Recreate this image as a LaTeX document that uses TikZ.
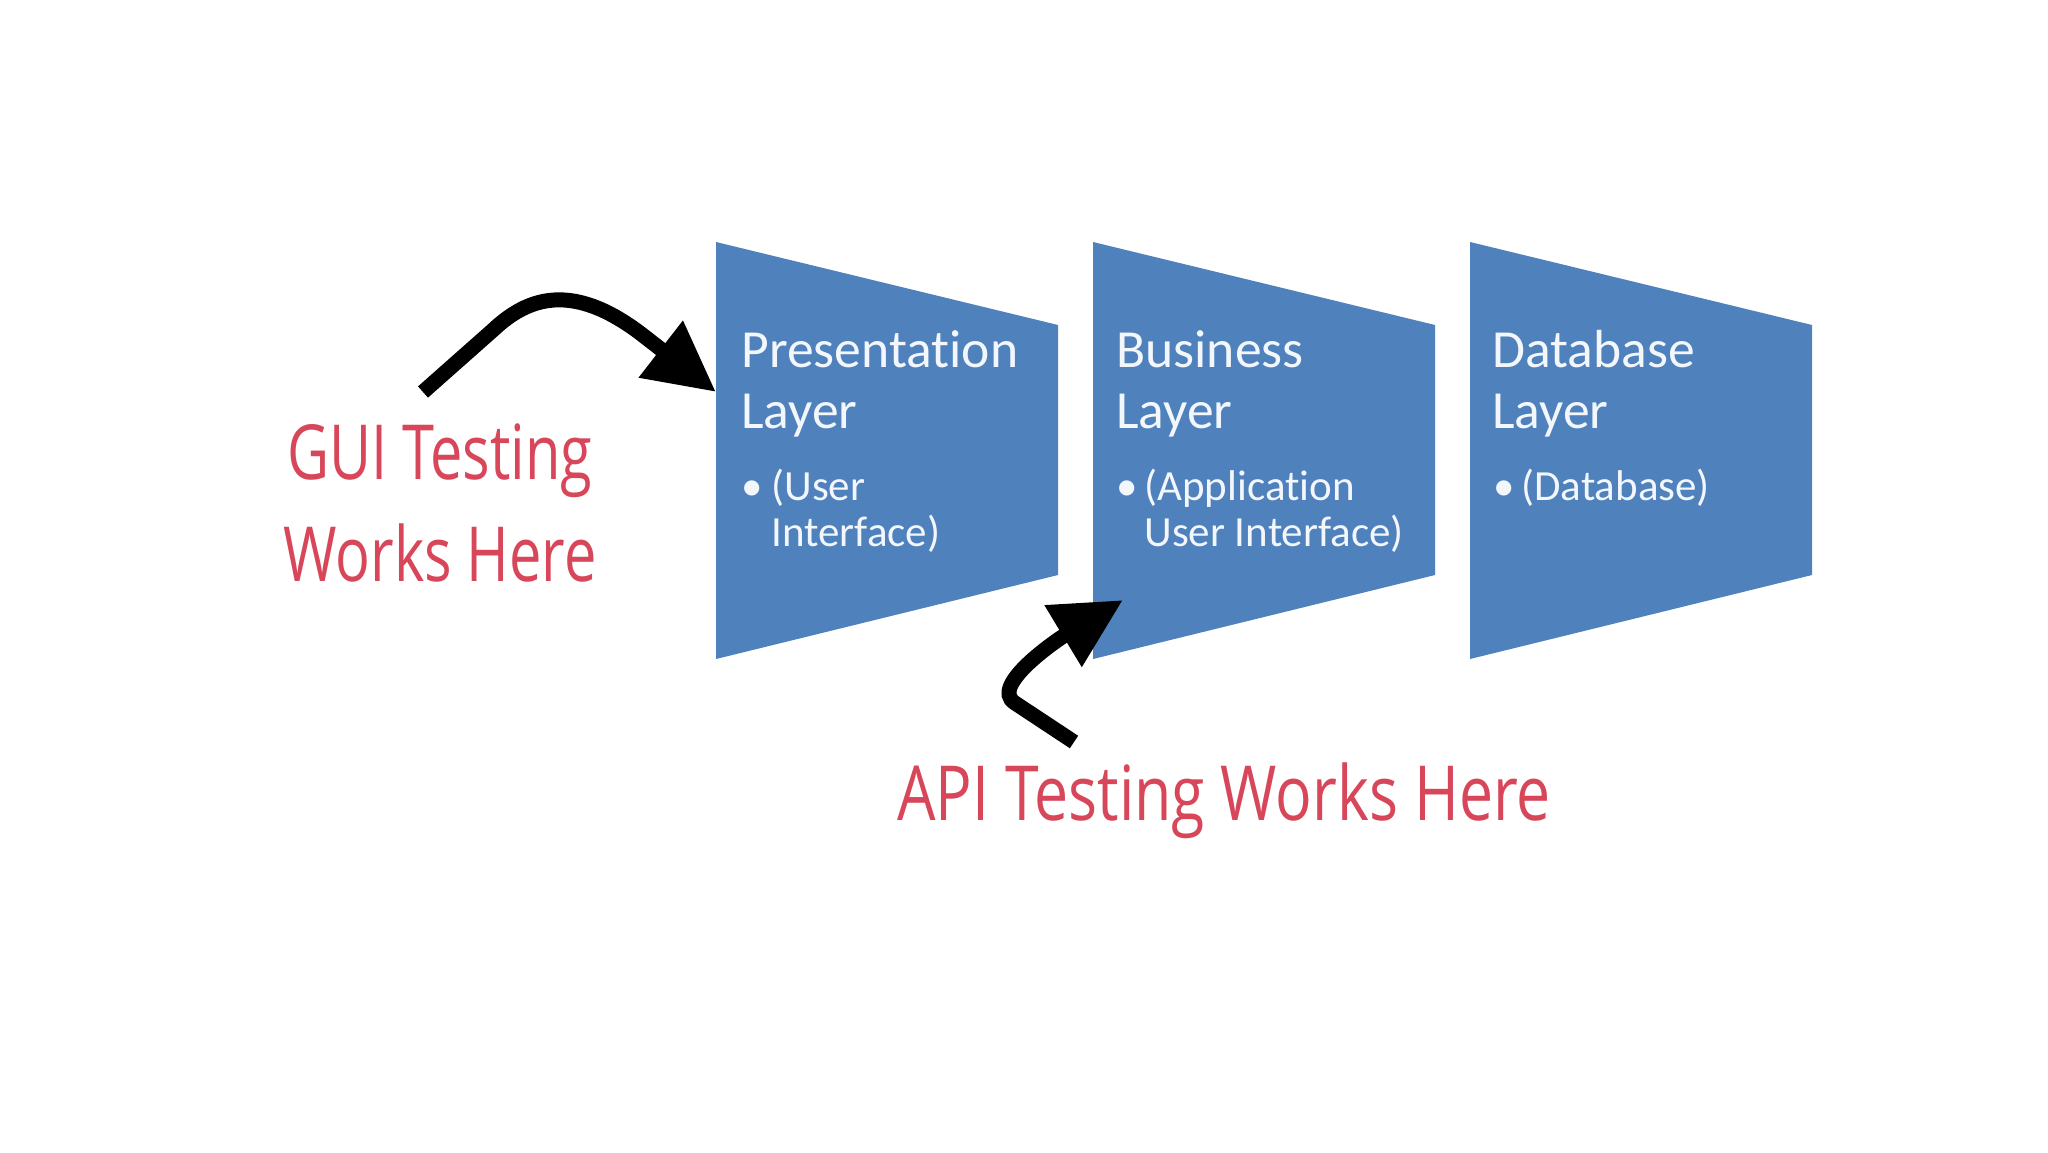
\documentclass[tikz,border=0pt]{standalone}
\usepackage{fontspec}
\setmainfont{Carlito}[Ligatures=NoCommon]
\newfontfamily\handA[FakeStretch=0.80]{Open Sans}
\newfontfamily\handG[FakeStretch=0.76]{Open Sans}
\usetikzlibrary{arrows.meta}
\definecolor{layerblue}{HTML}{4F81BD}
\definecolor{layertext}{HTML}{F3F7FC}
\definecolor{handred}{HTML}{D8465A}
\tikzset{
  layer/.style={fill=layerblue, draw=none},
  title/.style={anchor=base west, inner sep=0pt, text=layertext, font=\fontsize{26.8pt}{29pt}\selectfont},
  small/.style={anchor=base west, inner sep=0pt, text=layertext, font=\fontsize{21.5pt}{23pt}\selectfont},
  hand/.style={anchor=base, inner sep=0pt, text=handred},
  bigarrow/.style={line width=7.5pt, black, -{Triangle[length=35pt,width=34pt]}},
}
\begin{document}
\begin{tikzpicture}[x=0.5pt,y=-0.5pt]
\useasboundingbox[fill=white] (0,0) rectangle (2048,1152);

% layer shapes
\foreach \n/\x in {p/716,b/1093,d/1470}{
  \coordinate (\n-tl) at (\x,242);
  \coordinate (\n-bl) at (\x,659);
  \coordinate (\n-tr) at (\x+342,325);
  \coordinate (\n-br) at (\x+342,575);
  \fill[layer] (\n-tl) -- (\n-tr) -- (\n-br) -- (\n-bl) -- cycle;
}

% Presentation layer text
\node[title] (p-t1) at (741,367) {Presentation};
\node[title] (p-t2) at (741,428) {Layer};
\node[small] (p-bul) at (741,500) {•};
\node[small] (p-s1) at (771,500) {(User};
\node[small] (p-s2) at (771,546) {Interface)};

% Business layer text
\node[title] (b-t1) at (1116,367) {Business};
\node[title] (b-t2) at (1116,428) {Layer};
\node[small] (b-bul) at (1116,500) {•};
\node[small] (b-s1) at (1144,500) {(Application};
\node[small] (b-s2) at (1144,546) {User Interface)};

% Database layer text
\node[title] (d-t1) at (1492,367) {Database};
\node[title] (d-t2) at (1492,428) {Layer};
\node[small] (d-bul) at (1493,500) {•};
\node[small] (d-s1) at (1521,500) {(Database)};

% handwritten labels
\node[hand, font=\handG\fontsize{38pt}{40pt}\selectfont] (gui1) at (440,479) {GUI Testing};
\node[hand, font=\handG\fontsize{38pt}{40pt}\selectfont] (gui2) at (440,581) {Works Here};
\node[hand, font=\handA\fontsize{38pt}{40pt}\selectfont] (api) at (1224,820) {API Testing Works Here};

% arrows
\coordinate (gui-tail) at (423,392);
\coordinate (gui-tip) at (716,392);
\coordinate (api-tail) at (1074,742);
\coordinate (api-tip) at (1123,600);
\draw[bigarrow] (gui-tail) -- (493,330) .. controls (528,297) and (572,282) .. (640,333) -- (gui-tip);
\draw[bigarrow] (api-tail) -- (1015,703) .. controls (988,686) and (1060,638) .. (api-tip);
\end{tikzpicture}
\end{document}
